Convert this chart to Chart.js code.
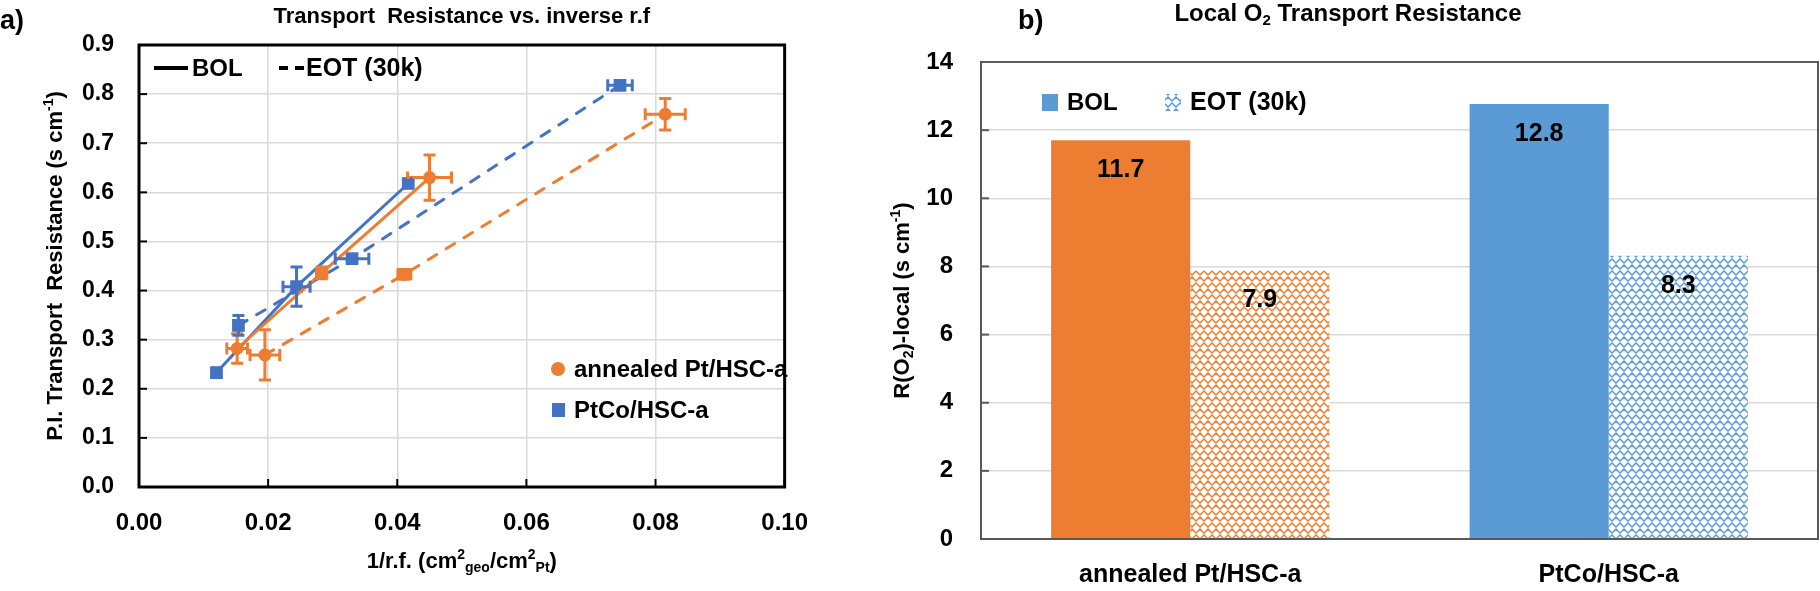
<!DOCTYPE html>
<html>
<head>
<meta charset="utf-8">
<title>Transport resistance</title>
<script src="https://cdn.jsdelivr.net/npm/chart.js@4.4.1/dist/chart.umd.min.js"></script>
<style>
  body { margin: 0; background: #fff; }
  #left { position: absolute; left: 0; top: 0; width: 830px; height: 591px; }
  #right { position: absolute; left: 860px; top: 0; width: 960px; height: 591px; }
</style>
</head>
<body>
<div id="left"><canvas id="scatter-chart"></canvas></div>
<div id="right"><canvas id="bar-chart"></canvas></div>
<script>
// ---- a) P.I. transport resistance vs 1/r.f. ----
// annealed Pt/HSC-a
var ptBolX = [0.0152, 0.0283, 0.0450];
var ptBolY = [0.282, 0.436, 0.630];
var ptBolXErr = [0.0016, 0.0008, 0.0034];
var ptBolYErr = [0.030, 0.012, 0.046];
var ptEotX = [0.0195, 0.0411, 0.0815];
var ptEotY = [0.269, 0.433, 0.759];
var ptEotXErr = [0.0023, 0.0010, 0.0031];
var ptEotYErr = [0.051, 0.010, 0.032];
// PtCo/HSC-a
var coBolX = [0.0120, 0.0244, 0.0417];
var coBolY = [0.233, 0.408, 0.618];
var coBolXErr = [0.0005, 0.0021, 0.0005];
var coBolYErr = [0.008, 0.040, 0.006];
var coEotX = [0.0154, 0.0330, 0.0745];
var coEotY = [0.329, 0.465, 0.818];
var coEotXErr = [0.0005, 0.0026, 0.0019];
var coEotYErr = [0.020, 0.008, 0.006];

// ---- b) local O2 transport resistance ----
var catalysts = ['annealed Pt/HSC-a', 'PtCo/HSC-a'];
var bolValues = [11.7, 12.77];
var eotValues = [7.88, 8.31];

var FONT = "'Liberation Sans', Arial, sans-serif";
var orange = '#ED7D31';
var blue = '#4472C4';
var blueBar = '#5B9BD5';

Chart.defaults.font.family = FONT;
Chart.defaults.font.weight = 'bold';
Chart.defaults.color = '#000';

function points(xs, ys) {
    var out = [];
    for (var i = 0; i < xs.length; i++) {
        out.push({x: xs[i], y: ys[i]});
    }
    return out;
}

// zig zag fill, a bit like the excel pattern
function makePattern(color) {
    var c = document.createElement('canvas');
    c.width = 8;
    c.height = 12;
    var g = c.getContext('2d');
    g.fillStyle = '#fff';
    g.fillRect(0, 0, 8, 12);
    g.strokeStyle = color;
    g.lineWidth = 1.5;
    g.beginPath();
    g.moveTo(-1, 6);
    g.lineTo(0, 5);
    g.lineTo(4, 1);
    g.lineTo(8, 5);
    g.lineTo(9, 6);
    g.moveTo(-4, 10);
    g.lineTo(0, 7);
    g.lineTo(4, 11);
    g.lineTo(8, 7);
    g.lineTo(12, 11);
    g.stroke();
    return g.createPattern(c, 'repeat');
}

// text with super / subscripts, parts = [[text, 0 normal | 1 sup | 2 sub], ...]
function drawRich(ctx, parts, x, y, size, rotate) {
    var small = Math.round(size * 0.62);
    ctx.save();
    ctx.translate(x, y);
    if (rotate) ctx.rotate(-Math.PI / 2);
    var total = 0;
    for (var i = 0; i < parts.length; i++) {
        ctx.font = 'bold ' + (parts[i][1] ? small : size) + 'px ' + FONT;
        total += ctx.measureText(parts[i][0]).width;
    }
    var cx = -total / 2;
    ctx.textBaseline = 'middle';
    ctx.textAlign = 'left';
    ctx.fillStyle = '#000';
    for (var j = 0; j < parts.length; j++) {
        var p = parts[j];
        ctx.font = 'bold ' + (p[1] ? small : size) + 'px ' + FONT;
        var dy = p[1] === 1 ? -size * 0.32 : (p[1] === 2 ? size * 0.3 : 0);
        ctx.fillText(p[0], cx, dy);
        cx += ctx.measureText(p[0]).width;
    }
    ctx.restore();
}

function drawFrame(chart, color, width, xTicks) {
    var ctx = chart.ctx;
    var a = chart.chartArea;
    ctx.save();
    ctx.strokeStyle = color;
    ctx.lineWidth = width;
    ctx.strokeRect(a.left, a.top, a.right - a.left, a.bottom - a.top);
    // small inside tick marks
    ctx.lineWidth = 2;
    var ys = chart.scales.y;
    ys.ticks.forEach(function(t) {
        var py = ys.getPixelForValue(t.value);
        ctx.beginPath();
        ctx.moveTo(a.left, py);
        ctx.lineTo(a.left + 8, py);
        ctx.stroke();
    });
    if (xTicks) {
        var xs = chart.scales.x;
        xs.ticks.forEach(function(t) {
            var px = xs.getPixelForValue(t.value);
            ctx.beginPath();
            ctx.moveTo(px, a.bottom);
            ctx.lineTo(px, a.bottom - 8);
            ctx.stroke();
        });
    }
    ctx.restore();
}

var errorBars = {
    id: 'errorBars',
    afterDatasetsDraw: function(chart) {
        var ctx = chart.ctx;
        var xs = chart.scales.x;
        var ys = chart.scales.y;
        ctx.save();
        chart.data.datasets.forEach(function(ds) {
            if (!ds.xErr) return;
            ctx.strokeStyle = ds.borderColor;
            ctx.lineWidth = 3;
            ds.data.forEach(function(p, i) {
                var px = xs.getPixelForValue(p.x);
                var py = ys.getPixelForValue(p.y);
                var x1 = xs.getPixelForValue(p.x - ds.xErr[i]);
                var x2 = xs.getPixelForValue(p.x + ds.xErr[i]);
                var y1 = ys.getPixelForValue(p.y - ds.yErr[i]);
                var y2 = ys.getPixelForValue(p.y + ds.yErr[i]);
                ctx.beginPath();
                ctx.moveTo(x1, py); ctx.lineTo(x2, py);
                ctx.moveTo(x1, py - 6); ctx.lineTo(x1, py + 6);
                ctx.moveTo(x2, py - 6); ctx.lineTo(x2, py + 6);
                ctx.moveTo(px, y1); ctx.lineTo(px, y2);
                ctx.moveTo(px - 6, y1); ctx.lineTo(px + 6, y1);
                ctx.moveTo(px - 6, y2); ctx.lineTo(px + 6, y2);
                ctx.stroke();
            });
        });
        ctx.restore();
    }
};

var scatterDecor = {
    id: 'scatterDecor',
    afterDraw: function(chart) {
        var ctx = chart.ctx;
        var a = chart.chartArea;
        var mid = (a.left + a.right) / 2;
        drawFrame(chart, '#000', 3, true);

        ctx.save();
        ctx.fillStyle = '#000';
        ctx.textBaseline = 'middle';
        ctx.font = 'bold 27px ' + FONT;
        ctx.fillText('a)', 0, 22);

        drawRich(ctx, [['Transport  Resistance vs. inverse r.f', 0]], mid, 17, 22, false);
        drawRich(ctx, [['P.I. Transport  Resistance (s cm', 0], ['-1', 1], [')', 0]], 56, (a.top + a.bottom) / 2, 22, true);
        drawRich(ctx, [['1/r.f. (cm', 0], ['2', 1], ['geo', 2], ['/cm', 0], ['2', 1], ['Pt', 2], [')', 0]], mid, 562, 22, false);

        // line style legend
        ctx.strokeStyle = '#000';
        ctx.lineWidth = 4;
        ctx.beginPath();
        ctx.moveTo(a.left + 15, a.top + 23);
        ctx.lineTo(a.left + 49, a.top + 23);
        ctx.stroke();
        ctx.setLineDash([9, 7]);
        ctx.beginPath();
        ctx.moveTo(a.left + 140, a.top + 23);
        ctx.lineTo(a.left + 165, a.top + 23);
        ctx.stroke();
        ctx.setLineDash([]);
        ctx.font = 'bold 24px ' + FONT;
        ctx.fillText('BOL', a.left + 53, a.top + 24);
        ctx.font = 'bold 25px ' + FONT;
        ctx.fillText('EOT (30k)', a.left + 167, a.top + 24);

        // material legend
        ctx.font = 'bold 24px ' + FONT;
        ctx.fillStyle = orange;
        ctx.beginPath();
        ctx.arc(a.left + 419, a.top + 324, 7, 0, Math.PI * 2);
        ctx.fill();
        ctx.fillStyle = blue;
        ctx.fillRect(a.left + 413, a.top + 358, 13, 14);
        ctx.fillStyle = '#000';
        ctx.fillText('annealed Pt/HSC-a', a.left + 435, a.top + 325);
        ctx.fillText('PtCo/HSC-a', a.left + 435, a.top + 366);
        ctx.restore();
    }
};

function lineSet(label, xs, ys, xe, ye, color, dashed, style, radius) {
    return {
        label: label,
        data: points(xs, ys),
        xErr: xe,
        yErr: ye,
        showLine: true,
        borderColor: color,
        backgroundColor: color,
        borderWidth: 3,
        borderDash: dashed ? [10, 11] : [],
        borderCapStyle: 'round',
        pointStyle: style,
        pointRadius: radius,
        pointBorderWidth: 0
    };
}

new Chart(document.getElementById('scatter-chart'), {
    type: 'scatter',
    data: {
        datasets: [
            lineSet('annealed Pt/HSC-a BOL', ptBolX, ptBolY, ptBolXErr, ptBolYErr, orange, false, 'circle', 6.5),
            lineSet('annealed Pt/HSC-a EOT', ptEotX, ptEotY, ptEotXErr, ptEotYErr, orange, true, 'circle', 6.5),
            lineSet('PtCo/HSC-a BOL', coBolX, coBolY, coBolXErr, coBolYErr, blue, false, 'rect', 9),
            lineSet('PtCo/HSC-a EOT', coEotX, coEotY, coEotXErr, coEotYErr, blue, true, 'rect', 9)
        ]
    },
    options: {
        responsive: true,
        maintainAspectRatio: false,
        animation: false,
        layout: { padding: { top: 45, right: 27, bottom: 0, left: 0 } },
        plugins: { legend: { display: false }, tooltip: { enabled: false } },
        scales: {
            x: {
                type: 'linear',
                min: 0,
                max: 0.1,
                ticks: { stepSize: 0.02, padding: 22, font: { size: 24 }, callback: function(v) { return v.toFixed(2); } },
                grid: { color: '#D9D9D9', lineWidth: 1.5, drawTicks: false },
                border: { display: false },
                afterFit: function(s) { s.height = 104; }
            },
            y: {
                min: 0,
                max: 0.9,
                ticks: { stepSize: 0.1, padding: 25, font: { size: 23 }, callback: function(v) { return v.toFixed(1); } },
                grid: { color: '#D9D9D9', lineWidth: 1.5, drawTicks: false },
                border: { display: false },
                afterFit: function(s) { s.width = 139; }
            }
        }
    },
    plugins: [errorBars, scatterDecor]
});

// ---- bar chart ----
var orangePattern = makePattern(orange);
var bluePattern = makePattern(blueBar);

var barDecor = {
    id: 'barDecor',
    afterDatasetsDraw: function(chart) {
        var ctx = chart.ctx;
        ctx.save();
        ctx.fillStyle = '#000';
        ctx.font = 'bold 25px ' + FONT;
        ctx.textAlign = 'center';
        ctx.textBaseline = 'middle';
        chart.data.datasets.forEach(function(ds, di) {
            chart.getDatasetMeta(di).data.forEach(function(bar, i) {
                ctx.fillText(ds.data[i].toFixed(1), bar.x, bar.y + 30);
            });
        });
        ctx.restore();
    },
    afterDraw: function(chart) {
        var ctx = chart.ctx;
        var a = chart.chartArea;
        drawFrame(chart, '#595959', 2, false);
        ctx.save();
        ctx.fillStyle = '#000';
        ctx.textBaseline = 'middle';
        ctx.font = 'bold 27px ' + FONT;
        ctx.fillText('b)', 158, 22);

        drawRich(ctx, [['Local O', 0], ['2', 2], [' Transport Resistance', 0]], 488, 14, 24, false);
        drawRich(ctx, [['R(O', 0], ['2', 2], [')-local (s cm', 0], ['-1', 1], [')', 0]], 43, (a.top + a.bottom) / 2, 22, true);

        // legend inside the plot
        ctx.fillStyle = blueBar;
        ctx.fillRect(a.left + 61, a.top + 32, 16, 17);
        ctx.fillStyle = bluePattern;
        ctx.fillRect(a.left + 184, a.top + 32, 16, 17);
        ctx.fillStyle = '#000';
        ctx.font = 'bold 24px ' + FONT;
        ctx.fillText('BOL', a.left + 86, a.top + 41);
        ctx.font = 'bold 25px ' + FONT;
        ctx.fillText('EOT (30k)', a.left + 209, a.top + 41);
        ctx.restore();
    }
};

new Chart(document.getElementById('bar-chart'), {
    type: 'bar',
    data: {
        labels: catalysts,
        datasets: [
            {
                label: 'BOL',
                data: bolValues,
                backgroundColor: [orange, blueBar],
                categoryPercentage: 0.665,
                barPercentage: 1.0
            },
            {
                label: 'EOT (30k)',
                data: eotValues,
                backgroundColor: [orangePattern, bluePattern],
                categoryPercentage: 0.665,
                barPercentage: 1.0
            }
        ]
    },
    options: {
        responsive: true,
        maintainAspectRatio: false,
        animation: false,
        layout: { padding: { top: 62, right: 2, bottom: 0, left: 0 } },
        plugins: { legend: { display: false }, tooltip: { enabled: false } },
        scales: {
            x: {
                ticks: { padding: 21, font: { size: 25 } },
                grid: { display: false, drawTicks: false },
                border: { display: false },
                afterFit: function(s) { s.height = 52; }
            },
            y: {
                min: 0,
                max: 14,
                ticks: { stepSize: 2, padding: 28, font: { size: 24 } },
                grid: { color: '#D9D9D9', lineWidth: 1.5, drawTicks: false },
                border: { display: false },
                afterFit: function(s) { s.width = 121; }
            }
        }
    },
    plugins: [barDecor]
});
</script>
</body>
</html>
